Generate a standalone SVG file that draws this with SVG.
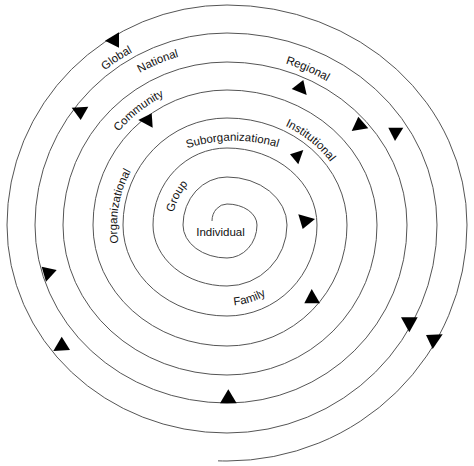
<svg xmlns="http://www.w3.org/2000/svg" xmlns:xlink="http://www.w3.org/1999/xlink" width="474" height="466" viewBox="0 0 474 466">
<style>
.sp{fill:none;stroke:#555;stroke-width:1}
.ar{fill:#000;stroke:none}
.lb{font-family:"Liberation Sans",Arial,sans-serif;font-size:11.5px;fill:#111}
</style>
<defs>
<path id="pGlobal" d="M59,122.1 A197,197 0 0 1 197.9,30.2"/>
<path id="pNational" d="M96.6,107.5 A176,175 0 0 1 233.8,50.1"/>
<path id="pCommunity" d="M95.1,170.8 A142.5,143.5 0 0 1 207.7,82.8"/>
<path id="pRegional" d="M229,55 A187,170 0 0 1 371.5,117.1"/>
<path id="pInstitutional" d="M243.5,114 A125,112 0 0 1 349.1,201"/>
<path id="pSub" d="M183.6,149.5 Q232,132.6 281.5,148.4"/>
<path id="pOrg" d="M123.7,262.8 A110,110 0 0 1 142.6,154.4"/>
<path id="pGroup" d="M172.8,231.4 A54.5,58.5 0 0 1 202.9,172.6"/>
<path id="pFamily" d="M216.2,305 A79.7,80.7 0 0 0 280.5,284.8"/>
</defs>
<rect width="474" height="466" fill="#fff"/>
<g id="connectors">
<path id="spiral" class="sp" d="M212,221 A15,17 0 0 1 227,204 A30,21 0 0 1 257,225 A30,33 0 0 1 227,258 A44,33 0 0 1 183,225 A44,48 0 0 1 227,177 A60,48 0 0 1 287,225 A60,61 0 0 1 227,286 A74,61 0 0 1 153,225 A74,77 0 0 1 227,148 A90,77 0 0 1 317,225 A90,91 0 0 1 227,316 A104,91 0 0 1 123,225 A104,107 0 0 1 227,118 A120,107 0 0 1 347,225 A120,121 0 0 1 227,346 A134,121 0 0 1 93,225 A134,135 0 0 1 227,90 A150,135 0 0 1 377,225 A150,150 0 0 1 227,375 A164,150 0 0 1 63,225 A164,163 0 0 1 227,62 A180,163 0 0 1 407,225 A180,178 0 0 1 227,403 A192,178 0 0 1 35,225 A192,192 0 0 1 227,33 A210,192 0 0 1 437,225 A210,208 0 0 1 227,433 A220,208 0 0 1 7,225 A220,220 0 0 1 227,5 A240,220 0 0 1 467,225 A240,236 0 0 1 227,461 A250,236 0 0 1 218,460.85"/>
<g id="arrows">
<polygon class="ar" points="105,40.7 119,32.3 119,47.7"/>
<polygon class="ar" points="71.7,107.7 88.3,106.7 80.7,120"/>
<polygon class="ar" points="138.3,120 151.7,113.3 152.7,127.7"/>
<polygon class="ar" points="303.3,80 291.7,89 306.7,95"/>
<polygon class="ar" points="358.3,116.7 351.7,131 368.3,128.3"/>
<polygon class="ar" points="388.3,127.7 403.3,127.7 395,141"/>
<polygon class="ar" points="303.3,150 290,154.3 298.3,164.3"/>
<polygon class="ar" points="298.3,214.3 315,219 302.7,229"/>
<polygon class="ar" points="41.7,266.7 56.7,270 46,281.7"/>
<polygon class="ar" points="61.7,336.7 53.3,351 70,350"/>
<polygon class="ar" points="228.3,389.3 220,403.3 236.7,403.3"/>
<polygon class="ar" points="311.7,289 304.3,303.3 320,303.3"/>
<polygon class="ar" points="401,317.3 417.7,317.3 409.3,332.3"/>
<polygon class="ar" points="426,335 442.7,334.3 432.7,349"/>
</g>
</g>
<g id="global"><text class="lb"><textPath xlink:href="#pGlobal" href="#pGlobal" startOffset="50%" text-anchor="middle">Global</textPath></text></g>
<g id="national"><text class="lb"><textPath xlink:href="#pNational" href="#pNational" startOffset="50%" text-anchor="middle">National</textPath></text></g>
<g id="community"><text class="lb"><textPath xlink:href="#pCommunity" href="#pCommunity" startOffset="50%" text-anchor="middle">Community</textPath></text></g>
<g id="regional"><text class="lb"><textPath xlink:href="#pRegional" href="#pRegional" startOffset="50%" text-anchor="middle">Regional</textPath></text></g>
<g id="institutional"><text class="lb"><textPath xlink:href="#pInstitutional" href="#pInstitutional" startOffset="50%" text-anchor="middle">Institutional</textPath></text></g>
<g id="suborganizational"><text class="lb"><textPath xlink:href="#pSub" href="#pSub" startOffset="50%" text-anchor="middle">Suborganizational</textPath></text></g>
<g id="organizational"><text class="lb"><textPath xlink:href="#pOrg" href="#pOrg" startOffset="50%" text-anchor="middle">Organizational</textPath></text></g>
<g id="group"><text class="lb"><textPath xlink:href="#pGroup" href="#pGroup" startOffset="50%" text-anchor="middle">Group</textPath></text></g>
<g id="family"><text class="lb"><textPath xlink:href="#pFamily" href="#pFamily" startOffset="50%" text-anchor="middle">Family</textPath></text></g>
<g id="individual"><text class="lb" x="220.5" y="236" text-anchor="middle">Individual</text></g>
</svg>
